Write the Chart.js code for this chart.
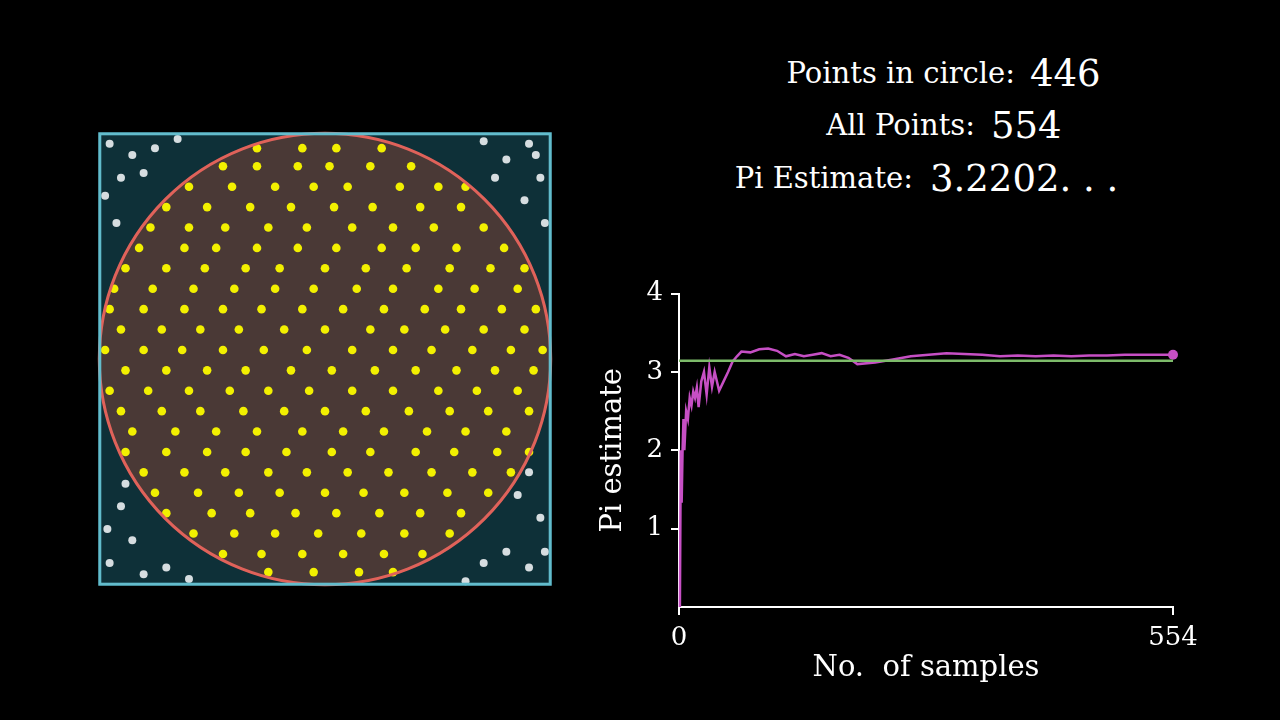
<!DOCTYPE html>
<html><head><meta charset="utf-8">
<script src="https://cdn.jsdelivr.net/npm/chart.js@4"></script>
<style>
html,body{margin:0;background:#000;width:1280px;height:720px;overflow:hidden;font-family:"DejaVu Serif",serif;color:#fff}
canvas{position:absolute}
.t{position:absolute;white-space:nowrap}
.l{font-size:29px;text-align:right;width:400px}
.n{font-size:37px}
</style></head><body>
<div class="t l" style="left:615px;top:56px">Points in circle:</div><div class="t n" style="left:1030px;top:52px">446</div>
<div class="t l" style="left:575px;top:108px">All Points:</div><div class="t n" style="left:991px;top:104px">554</div>
<div class="t l" style="left:513px;top:161px">Pi Estimate:</div><div class="t n" style="left:930px;top:157px">3.2202. . .</div>
<canvas id="c1" width="462" height="462" style="left:94px;top:128px;width:462px;height:462px"></canvas>
<canvas id="c2" width="680" height="420" style="left:560px;top:270px;width:680px;height:420px"></canvas>
<script>
// Sample points, grouped in rows (y, list of x), unit square [-1,1]
const rowY=[0.93,0.85,0.76,0.67,0.58,0.49,0.4,0.31,0.22,0.13,0.04,-0.05,-0.14,-0.23,-0.32,-0.41,-0.5,-0.59,-0.68,-0.77,-0.86,-0.94];
const rowX=[
[-0.3,-0.1,0.05,0.25],
[-0.45,-0.3,-0.12,0.02,0.2,0.38],
[-0.6,-0.41,-0.22,-0.05,0.1,0.33,0.5,0.62],
[-0.7,-0.52,-0.33,-0.15,0.04,0.21,0.42,0.6],
[-0.77,-0.6,-0.44,-0.25,-0.08,0.12,0.3,0.48,0.7],
[-0.82,-0.62,-0.48,-0.3,-0.12,0.05,0.25,0.4,0.58,0.79],
[-0.88,-0.7,-0.53,-0.35,-0.2,0.0,0.18,0.36,0.55,0.73,0.88],
[-0.93,-0.76,-0.58,-0.4,-0.22,-0.05,0.14,0.3,0.5,0.66,0.85],
[-0.95,-0.8,-0.62,-0.45,-0.28,-0.1,0.08,0.26,0.44,0.6,0.78,0.93],
[-0.9,-0.72,-0.55,-0.38,-0.18,0.0,0.2,0.35,0.53,0.7,0.88],
[-0.97,-0.8,-0.63,-0.45,-0.27,-0.08,0.12,0.3,0.47,0.65,0.82,0.96],
[-0.88,-0.7,-0.52,-0.35,-0.15,0.03,0.22,0.4,0.58,0.75,0.92],
[-0.95,-0.78,-0.6,-0.42,-0.25,-0.07,0.12,0.3,0.5,0.67,0.85],
[-0.9,-0.72,-0.55,-0.36,-0.18,0.0,0.18,0.37,0.55,0.72,0.9],
[-0.85,-0.66,-0.48,-0.3,-0.1,0.08,0.26,0.45,0.62,0.8],
[-0.88,-0.7,-0.52,-0.35,-0.17,0.03,0.2,0.4,0.57,0.76,0.9],
[-0.8,-0.62,-0.44,-0.25,-0.08,0.1,0.28,0.47,0.65,0.82],
[-0.75,-0.56,-0.38,-0.2,0.0,0.17,0.35,0.54,0.72],
[-0.7,-0.5,-0.33,-0.13,0.05,0.24,0.42,0.6],
[-0.58,-0.4,-0.22,-0.03,0.16,0.35,0.55],
[-0.45,-0.28,-0.1,0.08,0.26,0.43],
[-0.25,-0.05,0.15,0.3]];
const outX=[-0.95,-0.85,-0.9,-0.75,-0.97,-0.8,-0.65,-0.92,0.9,0.8,0.95,0.7,0.88,0.97,0.75,0.93,-0.95,-0.85,-0.9,-0.7,-0.8,-0.96,-0.6,-0.88,0.9,0.8,0.95,0.7,0.85,0.97,0.62,0.9];
const outY=[0.95,0.9,0.8,0.93,0.72,0.82,0.97,0.6,0.95,0.88,0.8,0.96,0.7,0.6,0.8,0.9,-0.9,-0.8,-0.65,-0.92,-0.95,-0.75,-0.97,-0.55,-0.92,-0.85,-0.7,-0.9,-0.6,-0.85,-0.98,-0.5];
// Pi estimate series
const sampleIdx=[1,2,3,4,5,6,8,10,12,14,16,18,20,22,25,28,31,34,37,40,45,50,55,60,65,70,80,90,100,110,120,130,140,150,160,170,180,190,200,220,240,260,280,300,320,340,360,380,400,420,440,460,480,500,520,540,554];
const piEst=[0,2,1.33,2.0,2.4,2.0,2.5,2.4,2.67,2.57,2.75,2.67,2.8,2.55,2.88,3.0,2.71,3.06,2.81,3.0,2.76,2.88,3.0,3.13,3.2,3.26,3.25,3.29,3.3,3.27,3.2,3.23,3.2,3.22,3.24,3.2,3.22,3.18,3.1,3.12,3.16,3.2,3.22,3.24,3.23,3.22,3.2,3.21,3.2,3.21,3.2,3.21,3.21,3.22,3.22,3.22,3.2202];
const yTicks=[1,2,3,4];
const xTicks=[0,554];
const PI=3.14159;

const inPts=[],outPts=[];
rowY.forEach((y,i)=>rowX[i].forEach(x=>{(x*x+y*y<1?inPts:outPts).push({x,y});}));
outX.forEach((x,i)=>outPts.push({x,y:outY[i]}));

const bg={id:'bg',beforeDatasetsDraw(ch){const c=ch.ctx,s=ch.scales,x0=s.x.getPixelForValue(-1),x1=s.x.getPixelForValue(1),y0=s.y.getPixelForValue(1),y1=s.y.getPixelForValue(-1);
c.save();c.fillStyle='#0e3038';c.fillRect(x0,y0,x1-x0,y1-y0);
c.beginPath();c.arc((x0+x1)/2,(y0+y1)/2,(x1-x0)/2,0,Math.PI*2);c.fillStyle='#4a3936';c.fill();c.restore();},
afterDatasetsDraw(ch){const c=ch.ctx,s=ch.scales,x0=s.x.getPixelForValue(-1),x1=s.x.getPixelForValue(1),y0=s.y.getPixelForValue(1),y1=s.y.getPixelForValue(-1);
c.save();c.lineWidth=3;c.strokeStyle='#e0625a';c.beginPath();c.arc((x0+x1)/2,(y0+y1)/2,(x1-x0)/2-1,0,Math.PI*2);c.stroke();
c.strokeStyle='#62bccc';c.strokeRect(x0+1.5,y0+1.5,x1-x0-3,y1-y0-3);c.restore();}};
new Chart(document.getElementById('c1'),{type:'scatter',
data:{datasets:[{data:outPts,backgroundColor:'#d6dde0',borderWidth:0,pointRadius:4,clip:false},{data:inPts,backgroundColor:'#f2f000',borderWidth:0,pointRadius:4.3,clip:false}]},
options:{responsive:false,animation:false,events:[],layout:{padding:0},plugins:{legend:{display:false},tooltip:{enabled:false}},
scales:{x:{type:'linear',min:-1,max:1,display:false},y:{type:'linear',min:-1,max:1,display:false}}},plugins:[bg]});

const font={family:'"DejaVu Serif",serif',size:26};
new Chart(document.getElementById('c2'),{type:'line',
data:{datasets:[
{data:xTicks.map(x=>({x,y:PI})),borderColor:'#7dbb6a',borderWidth:2.5,pointRadius:0},
{data:sampleIdx.map((x,i)=>({x,y:piEst[i]})),borderColor:'#c64fc4',borderWidth:2.5,tension:0,
 pointRadius:sampleIdx.map((x,i)=>i===sampleIdx.length-1?5:0),pointBackgroundColor:'#c64fc4',pointBorderWidth:0,clip:false}]},
options:{responsive:false,animation:false,events:[],layout:{padding:{top:23,right:67}},plugins:{legend:{display:false},tooltip:{enabled:false}},
scales:{
x:{type:'linear',min:0,max:554,afterBuildTicks:a=>{a.ticks=xTicks.map(v=>({value:v}));},afterFit:a=>{a.height=83;},
 border:{color:'#fff',width:2},grid:{display:true,drawOnChartArea:false,color:'#fff',lineWidth:2,tickLength:8},
 ticks:{color:'#fff',font,padding:8},title:{display:true,text:'No.  of samples',color:'#fff',font:{...font,size:29},padding:{top:0}}},
y:{type:'linear',min:0,max:4,afterBuildTicks:a=>{a.ticks=yTicks.map(v=>({value:v}));},afterFit:a=>{a.width=119;},
 border:{color:'#fff',width:2},grid:{display:true,drawOnChartArea:false,color:'#fff',lineWidth:2,tickLength:8},
 ticks:{color:'#fff',font,padding:8},title:{display:true,text:'Pi estimate',color:'#fff',font:{...font,size:29},padding:{top:36,bottom:4}}}}}});
</script></body></html>
